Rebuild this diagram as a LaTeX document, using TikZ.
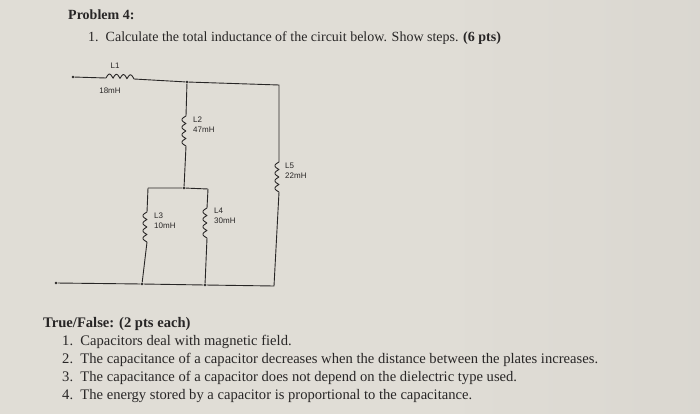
\documentclass[tikz,border=0pt]{standalone}
\usepackage{fontspec}
\setmainfont{Liberation Serif}
\newfontfamily\lab{Liberation Sans}
\definecolor{paper}{RGB}{224,221,214}
\definecolor{ink}{RGB}{40,38,38}
\begin{document}
\begin{tikzpicture}[x=1pt,y=-1pt,
  wire/.style={draw=ink,line width=0.9pt},
  dotc/.style={circle,fill=ink,inner sep=1pt},
  clab/.style={font=\lab\fontsize{8}{9.5}\selectfont,text=ink,align=left,inner sep=0pt},
  txt/.style={anchor=base west,inner sep=0pt,text=ink,font=\fontsize{14.6}{16}\selectfont}]
\fill[paper] (0,0) rectangle (700,414);
\useasboundingbox (0,0) rectangle (700,414);
\shade[left color=paper,right color=paper!96!black,opacity=0.6] (450,0) rectangle (700,414);
% text
\node[txt,font=\bfseries\fontsize{14}{16}\selectfont] (p4) at (68,20) {Problem 4:};
\node[txt,font=\fontsize{14}{16}\selectfont] (q1) at (88,42) {1.\ \ Calculate the total inductance of the circuit below. Show steps. \textbf{(6 pts)}};
\node[txt,font=\bfseries\fontsize{14.6}{16}\selectfont] (tf) at (43,327) {True/False: (2 pts each)};
\node[txt] (t1) at (62,345) {1.\ \ Capacitors deal with magnetic field.};
\node[txt] (t2) at (62,363) {2.\ \ The capacitance of a capacitor decreases when the distance between the plates increases.};
\node[txt] (t3) at (62,381) {3.\ \ The capacitance of a capacitor does not depend on the dielectric type used.};
\node[txt] (t4) at (62,399) {4.\ \ The energy stored by a capacitor is proportional to the capacitance.};
% coordinates
\node[dotc] (in) at (73,77) {};
\coordinate (l1a) at (106,78);
\coordinate (l1b) at (134,79);
\node[dotc] (jt) at (187,82) {};
\coordinate (tr) at (279,85);
\coordinate (l2a) at (186,116);
\coordinate (l2b) at (186,146);
\node[dotc] (jm) at (184,188) {};
\coordinate (ml) at (148,188);
\coordinate (mr) at (208,189);
\coordinate (l3a) at (147,212);
\coordinate (l3b) at (147,242);
\coordinate (l4a) at (207,208);
\coordinate (l4b) at (207,238);
\coordinate (l5a) at (279,162);
\coordinate (l5b) at (279,192);
\node[dotc] (out) at (56,283) {};
\node[dotc] (b3) at (142,284) {};
\node[dotc] (b4) at (205,285) {};
\coordinate (br) at (274,286);
% wires
\draw[wire] (in) -- (l1a);
\draw[wire] (l1b) -- (jt) -- (tr) -- (l5a);
\draw[wire] (l5b) -- (br) -- (b4) -- (b3) -- (out);
\draw[wire] (jt) -- (l2a);
\draw[wire] (l2b) -- (jm);
\draw[wire] (ml) -- (jm) -- (mr);
\draw[wire] (ml) -- (l3a); \draw[wire] (l3b) -- (b3);
\draw[wire] (mr) -- (l4a); \draw[wire] (l4b) -- (b4);
% coils
\draw[wire] plot[domain=0:4,samples=80,smooth] ({106+7*\x},{78+\x/4-4*abs(sin(\x*180))});
\foreach \cx/\cy in {186/116,147/212,207/208,279/162}
  \draw[wire] plot[domain=0:4,samples=80,smooth] ({\cx-4*abs(sin(\x*180))},{\cy+7.5*\x});
% labels
\node[clab] (n1) at (115,66) {L1};
\node[clab] (n1v) at (110,91) {18mH};
\node[clab,anchor=north west] (n2) at (193,117) {L2\\47mH};
\node[clab,anchor=north west] (n3) at (154,213) {L3\\10mH};
\node[clab,anchor=north west] (n4) at (214,208) {L4\\30mH};
\node[clab,anchor=north west] (n5) at (285,163) {L5\\22mH};
\end{tikzpicture}
\end{document}
